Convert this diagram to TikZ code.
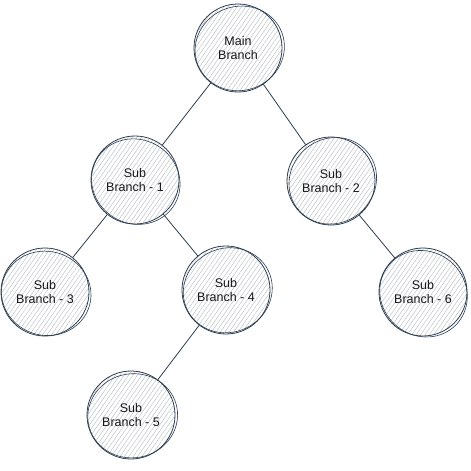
\documentclass[tikz,border=0pt]{standalone}
\usepackage{fontspec}
\setmainfont{Liberation Sans}
\usetikzlibrary{patterns.meta}
\definecolor{strokec}{HTML}{2E3E50}
\definecolor{hatchc}{HTML}{BFC4CA}
\begin{document}
\begin{tikzpicture}[x=1pt,y=-1pt,
  bnode/.style={circle, minimum size=88pt, inner sep=0pt, draw=strokec, line width=0.8pt,
    pattern={Lines[angle=55,distance=3.6pt,line width=0.5pt]}, pattern color=hatchc, align=center,
    font=\fontsize{12.5}{14}\selectfont, text=black!90},
  sketch/.style={draw=strokec, line width=0.6pt},
  edge/.style={draw=strokec, line width=0.8pt}]
\useasboundingbox (0,0) rectangle (471,471);
\fill[white] (0,0) rectangle (471,471);
\node[bnode] (m) at (238,48) {Main\\Branch};
\node[bnode] (s1) at (135,180) {Sub\\Branch - 1};
\node[bnode] (s2) at (331,181) {Sub\\Branch - 2};
\node[bnode] (s3) at (45,292) {Sub\\Branch - 3};
\node[bnode] (s4) at (226,290) {Sub\\Branch - 4};
\node[bnode] (s6) at (423,292) {Sub\\Branch - 6};
\node[bnode] (s5) at (131,415) {Sub\\Branch - 5};
\foreach \n/\r in {m/20, s1/-30, s2/40, s3/-15, s4/25, s6/-40, s5/10} {
  \draw[sketch, rotate around={\r:(\n.center)}] ([xshift=1.5pt,yshift=-1pt]\n.center) ellipse [x radius=45pt, y radius=42pt];
}
\draw[edge] (m) -- (s1);
\draw[edge] (m) -- (s2);
\draw[edge] (s1) -- (s3);
\draw[edge] (s1) -- (s4);
\draw[edge] (s2) -- (s6);
\draw[edge] (s4) -- (s5);
\end{tikzpicture}
\end{document}
